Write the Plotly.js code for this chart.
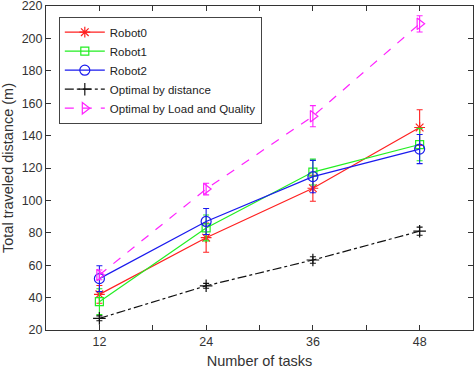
<!DOCTYPE html>
<html><head><meta charset="utf-8">
<script src="https://cdn.plot.ly/plotly-3.0.1.min.js"></script>
<style>html,body{margin:0;padding:0;background:#fff}#chart{width:474px;height:369px}</style>
</head><body><div id="chart"></div>
<script>
const tasks = [12, 24, 36, 48];
const robot0 = [42, 77, 107.5, 145];
const robot0Err = [5.5, 9, 8, 11];
const robot1 = [37.5, 83, 117.5, 134.5];
const robot1Err = [8, 8, 8, 10];
const robot2 = [51.7, 87, 114.7, 131.7];
const robot2Err = [8, 8, 10, 9];
const optDist = [27.2, 47.3, 63.2, 81];
const optDistErr = [1.5, 1.5, 2, 2.5];
const optLQ = [54, 107, 152, 209];
const optLQErr = [3, 3.6, 6.5, 5];
const seriesNames = ['Robot0', 'Robot1', 'Robot2', 'Optimal by distance', 'Optimal by Load and Quality'];
const xTickVals = [12, 18, 24, 30, 36, 42, 48];
const xTickText = ['12', '', '24', '', '36', '', '48'];
const yTickVals = [20, 40, 60, 80, 100, 120, 140, 160, 180, 200, 220];

function tr(name, y, err, color, symbol, dash, size) {
  return {
    x: tasks, y: y, name: name, type: 'scatter', mode: 'lines+markers',
    line: {color: color, width: 1.2, dash: dash},
    marker: {symbol: symbol, size: size, color: color, line: {color: color, width: 1.2}},
    error_y: {type: 'data', array: err, visible: true, color: color, thickness: 1.1, width: 3}
  };
}
const data = [
  tr(seriesNames[0], robot0, robot0Err, '#ff2020', 'asterisk-open', 'solid', 9),
  tr(seriesNames[1], robot1, robot1Err, '#22ee22', 'square-open', 'solid', 8),
  tr(seriesNames[2], robot2, robot2Err, '#1a1aee', 'circle-open', 'solid', 10),
  tr(seriesNames[3], optDist, optDistErr, '#111111', 'cross-thin-open', 'dashdot', 9),
  tr(seriesNames[4], optLQ, optLQErr, '#ff22ff', 'triangle-right-open', 'dash', 10)
];
const axisCommon = {
  showline: true, mirror: 'ticks', linecolor: '#333', linewidth: 1,
  ticks: 'inside', ticklen: 5, tickcolor: '#333', showgrid: false, zeroline: false,
  ticklabeloverflow: 'allow',
  tickfont: {family: 'Liberation Sans, Arial, sans-serif', size: 12.5, color: '#333'}
};
const layout = {
  width: 474, height: 369,
  margin: {l: 46, r: 1, t: 6, b: 39},
  paper_bgcolor: '#fff', plot_bgcolor: '#fff',
  font: {family: 'Liberation Sans, Arial, sans-serif', color: '#333'},
  xaxis: Object.assign({}, axisCommon, {
    range: [6, 54], tickvals: xTickVals, ticktext: xTickText,
    title: {text: 'Number of tasks', font: {size: 14.5, color: '#333'}, standoff: 9}
  }),
  yaxis: Object.assign({}, axisCommon, {
    range: [20, 220.02], tickvals: yTickVals,
    title: {text: 'Total traveled distance (m)', font: {size: 14.5, color: '#333'}, standoff: 6}
  }),
  showlegend: true,
  legend: {
    x: 0.03, y: 0.967, xanchor: 'left', yanchor: 'top',
    bgcolor: '#fff', bordercolor: '#444', borderwidth: 1,
    font: {family: 'Liberation Sans, Arial, sans-serif', size: 11.5, color: '#222'},
    tracegroupgap: 0, itemwidth: 40
  }
};
Plotly.newPlot('chart', data, layout, {displayModeBar: false, staticPlot: true});
</script></body></html>
